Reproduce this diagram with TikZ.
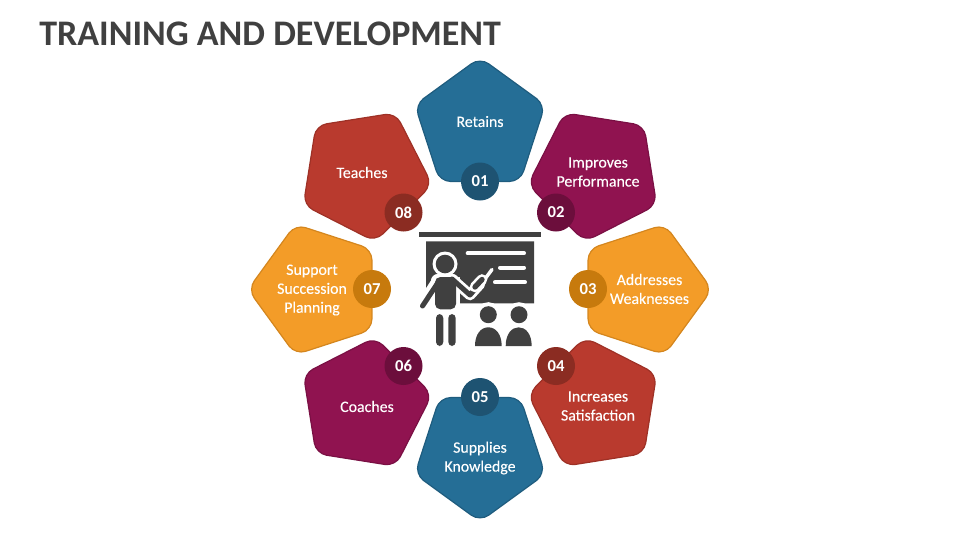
\documentclass[tikz,border=0pt]{standalone}
\usepackage{fontspec}
\setmainfont{Carlito}
\usetikzlibrary{shapes.geometric}
\definecolor{darkgrey}{HTML}{404040}
\definecolor{petalblue}{HTML}{256E96}
\definecolor{edgeblue}{HTML}{1F5C7E}
\definecolor{badgeblue}{HTML}{1E5372}
\definecolor{petalwine}{HTML}{901350}
\definecolor{edgewine}{HTML}{7A1044}
\definecolor{badgewine}{HTML}{6C0E3C}
\definecolor{petalorange}{HTML}{F39C28}
\definecolor{edgeorange}{HTML}{D4861E}
\definecolor{badgeorange}{HTML}{C77A0D}
\definecolor{petalred}{HTML}{B93A2E}
\definecolor{edgered}{HTML}{9E3126}
\definecolor{badgered}{HTML}{8B2C22}
\begin{document}
\begin{tikzpicture}[x=0.75pt, y=-0.75pt,
    petal/.style={regular polygon, regular polygon sides=5, minimum size=102.75pt, inner sep=0pt, outer sep=0pt, rounded corners=8pt, line width=0.9pt},
    badge/.style={circle, minimum size=28.5pt, inner sep=0pt, text=white, font=\fontsize{12.5}{14}\selectfont\bfseries},
    caption/.style={text=white, align=center, font=\fontsize{11.9}{14.2}\selectfont\addfontfeature{FakeBold=0.2}},
    icon/.style={line cap=round, line join=round}]
    \useasboundingbox (0, 0) rectangle (960, 540);

    %Title
    \node[anchor=west, inner sep=0pt, text=darkgrey, font=\fontsize{27}{30}\selectfont\bfseries] at (39, 34) (title) {TRAINING AND DEVELOPMENT};

    %Petals
    \node[petal, fill=petalblue, draw=edgeblue] at (480, 126) (p1) {};
    \node[petal, fill=petalwine, draw=edgewine, shape border rotate=-45] at (595.6, 173.9) (p2) {};
    \node[petal, fill=petalorange, draw=edgeorange, shape border rotate=-90] at (643.5, 289.5) (p3) {};
    \node[petal, fill=petalred, draw=edgered, shape border rotate=-135] at (595.6, 405.1) (p4) {};
    \node[petal, fill=petalblue, draw=edgeblue, shape border rotate=180] at (480, 453) (p5) {};
    \node[petal, fill=petalwine, draw=edgewine, shape border rotate=135] at (364.4, 405.1) (p6) {};
    \node[petal, fill=petalorange, draw=edgeorange, shape border rotate=90] at (316.5, 289.5) (p7) {};
    \node[petal, fill=petalred, draw=edgered, shape border rotate=45] at (364.4, 173.9) (p8) {};

    %Captions
    \node[caption] at (480, 121.5) (c1) {Retains};
    \node[caption] at (598, 172) (c2) {Improves\\Performance};
    \node[caption] at (649.5, 289) (c3) {Addresses\\Weaknesses};
    \node[caption] at (598, 406) (c4) {Increases\\Satisfaction};
    \node[caption] at (480, 458) (c5) {Supplies\\Knowledge};
    \node[caption] at (367, 406.5) (c6) {Coaches};
    \node[caption] at (312, 290) (c7) {Support\\Succession\\Planning};
    \node[caption] at (362, 172.5) (c8) {Teaches};

    %Badges
    \node[badge, fill=badgeblue] at (480, 181.5) (b1) {01};
    \node[badge, fill=badgewine] at (556, 212.5) (b2) {02};
    \node[badge, fill=badgeorange] at (588, 289) (b3) {03};
    \node[badge, fill=badgered] at (556, 366) (b4) {04};
    \node[badge, fill=badgeblue] at (480, 397) (b5) {05};
    \node[badge, fill=badgewine] at (403.5, 366) (b6) {06};
    \node[badge, fill=badgeorange] at (372, 289) (b7) {07};
    \node[badge, fill=badgered] at (403.5, 212.5) (b8) {08};

    %Board
    \fill[darkgrey] (419, 232) rectangle (541, 236.7);
    \fill[darkgrey] (426, 241.3) -- (534, 241.3) -- (534, 303.3) -- (460, 303.3) -- (460, 277) -- (433, 277) -- (426, 288) -- cycle;
    \draw[white, line width=3pt, line cap=round] (467.7, 253.3) -- (524, 253.3);
    \draw[white, line width=3pt, line cap=round] (500, 267.7) -- (524, 267.7);
    \draw[white, line width=3pt, line cap=round] (495, 282.3) -- (525, 282.3);

    %Teacher
    \draw[icon, white, line width=8pt] (440, 281) -- (423, 306);
    \draw[icon, white, line width=8pt] (452, 279) -- (470, 295) -- (480, 284);
    \draw[icon, white, line width=2.6pt] (482, 283) -- (492, 269.5);
    \fill[white] (445, 264) circle[radius=12.5];
    \fill[darkgrey] (445, 264) circle[radius=9.3];
    \fill[white, rounded corners=5pt] (431, 274) rectangle (459, 312);
    \fill[darkgrey, rounded corners=4pt] (435, 277) -- (456, 277) -- (456, 309.3) -- (435, 309.3) -- cycle;
    \draw[icon, darkgrey, line width=3.8pt] (439, 281) -- (422.5, 306);
    \draw[icon, darkgrey, line width=3.8pt] (452, 279) -- (470, 295) -- (476, 288);
    \draw[icon, white, line width=8pt] (475, 287) -- (482, 279.5);
    \draw[icon, darkgrey, line width=4pt] (475, 287) -- (482, 279.5);
    \fill[darkgrey, rounded corners=3pt] (436, 314) -- (443.3, 314) -- (443.3, 346) -- (436, 346) -- cycle;
    \fill[darkgrey, rounded corners=3pt] (448.3, 314) -- (455.7, 314) -- (455.7, 346) -- (448.3, 346) -- cycle;

    %Audience
    \fill[white] (488.3, 314.7) circle[radius=12.5];
    \fill[white] (519, 314.7) circle[radius=12.5];
    \fill[darkgrey] (488.3, 314.7) circle[radius=8.5];
    \fill[darkgrey] (519, 314.7) circle[radius=8.5];
    \fill[darkgrey] (475, 346) .. controls (475, 334) and (481, 327.3) .. (488.3, 327.3) .. controls (495.6, 327.3) and (501.7, 334) .. (501.7, 346) -- cycle;
    \fill[darkgrey] (505.7, 346) .. controls (505.7, 334) and (511.7, 327.3) .. (518.7, 327.3) .. controls (525.7, 327.3) and (531.7, 334) .. (531.7, 346) -- cycle;
\end{tikzpicture}
\end{document}
